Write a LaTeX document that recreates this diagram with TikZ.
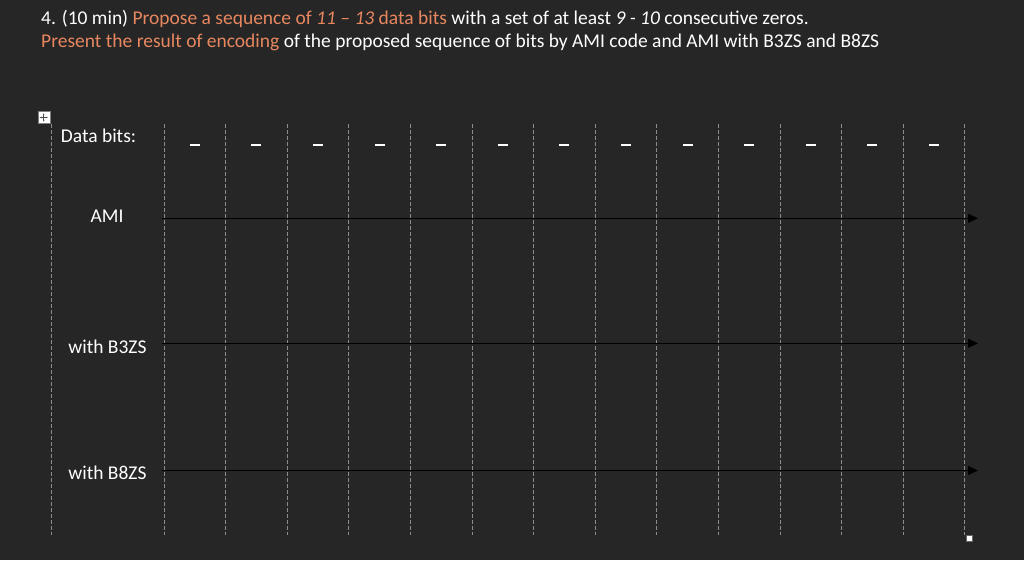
\documentclass[tikz,border=0pt]{standalone}
\usepackage{fontspec}
\setmainfont{Carlito}
\usetikzlibrary{arrows.meta}
\definecolor{pagebg}{HTML}{262626}
\definecolor{accent}{HTML}{E8875F}
\definecolor{gridgray}{HTML}{8C8C8C}

\begin{document}
\begin{tikzpicture}[x=1pt,y=-1pt]
\tikzset{lbl/.style = {text=white, inner sep=0pt, font=\fontsize{19.5}{23}\selectfont}}
\tikzset{slot/.style = {draw=gridgray, dash pattern=on 4pt off 2pt, line width=.8pt}}
\tikzset{axis/.style = {-{Triangle[length=10pt,width=9pt]}, draw=black, line width=.8pt}}
\tikzset{bitmark/.style = {fill=white, minimum width=10pt, minimum height=2pt, inner sep=0pt}}

   \fill[pagebg] (0,0) rectangle (1024,560);
   \useasboundingbox (0,0) rectangle (1024,560);

   % task text
   \node[lbl, anchor=base west] (task1) at (41,24) {4. (10 min) \textcolor{accent}{Propose a sequence of \textit{11 -- 13} data bits} with a set of at least \textit{9 - 10} consecutive zeros.};
   \node[lbl, anchor=base west] (task2) at (41,47) {\textcolor{accent}{Present the result of encoding} of the proposed sequence of bits by AMI code and AMI with B3ZS and B8ZS};

   % table grid
   \draw[slot] (51,124) -- (51,535);
   \foreach \i in {0,...,13}
     {\draw[slot] (164+61.6*\i,124) -- (164+61.6*\i,535);}

   % bit placeholders
   \foreach \i in {0,...,12}
     {\node[bitmark] (bit\i) at (194.8+61.6*\i,145) {};}

   % row labels
   \node[lbl, anchor=base] (databits) at (98.5,142.7) {Data bits:};
   \node[lbl, anchor=base] (amilbl) at (107,222.7) {AMI};
   \node[lbl, anchor=base] (bthreelbl) at (107.5,353.7) {with B3ZS};
   \node[lbl, anchor=base] (beightlbl) at (107.5,479.3) {with B8ZS};

   % time axes
   \foreach \name/\y in {ami/218.3, bthree/343.3, beight/470.5}
     {\coordinate (\name L) at (162,\y);
      \coordinate (\name R) at (978,\y);
      \draw[axis] (\name L) -- (\name R);}

   % table handles
   \node[draw=gray, fill=white, minimum size=12pt, inner sep=0pt] (moveicon) at (43.7,117.5) {};
   \draw[{Stealth[length=2pt]}-{Stealth[length=2pt]}, black!70, line width=.6pt]
     ([xshift=2pt]moveicon.west) -- ([xshift=-2pt]moveicon.east);
   \draw[{Stealth[length=2pt]}-{Stealth[length=2pt]}, black!70, line width=.6pt]
     ([yshift=-2pt]moveicon.north) -- ([yshift=2pt]moveicon.south);
   \node[draw=black!60, fill=white, minimum size=6pt, inner sep=0pt] (cornerhandle) at (969,538) {};

\end{tikzpicture}
\end{document}
